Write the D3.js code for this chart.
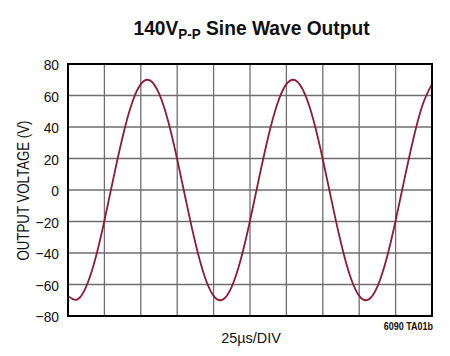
<!DOCTYPE html>
<html><head><meta charset="utf-8">
<script src="https://cdn.jsdelivr.net/npm/d3@7"></script>
<style>body{margin:0;background:#fff}</style>
</head><body>
<svg id="c" width="450" height="356"></svg>
<script>
const yTicks = [-80, -60, -40, -20, 0, 20, 40, 60, 80];
const xDivs = [0,1,2,3,4,5,6,7,8,9,10];
// time in divisions (25µs/DIV)
const timeDiv = [0,0.25,0.5,0.75,1,1.25,1.5,1.75,2,2.25,2.5,2.75,3,3.25,3.5,3.75,4,4.25,4.5,4.75,5,5.25,5.5,5.75,6,6.25,6.5,6.75,7,7.25,7.5,7.75,8,8.25,8.5,8.75,9,9.25,9.5,9.75,10];
const voltage = [-67.2,-69.6,-61.3,-43.8,-19.5,7.7,33.7,54.6,67.2,69.6,61.3,43.8,19.5,-7.7,-33.7,-54.6,-67.2,-69.6,-61.3,-43.8,-19.5,7.7,33.7,54.6,67.2,69.6,61.3,43.8,19.5,-7.7,-33.7,-54.6,-67.2,-69.6,-61.3,-43.8,-19.5,7.7,33.7,54.6,67.2];

const svg = d3.select("#c");
const L=68, R=432, T=64, B=316;
const x = d3.scaleLinear().domain([0,10]).range([L,R]);
const y = d3.scaleLinear().domain([-80,80]).range([B,T]);
const FONT = "'Liberation Sans',Arial,Helvetica,sans-serif";

function label(px, py, txt, size, anchor, sx, opts={}) {
  const g = svg.append("g").attr("transform",
    `translate(${px},${py})` + (opts.rot ? ` rotate(${opts.rot})` : "") + ` scale(${sx},1)`);
  return g.append("text").attr("text-anchor",anchor).attr("font-family",FONT)
    .attr("font-size",size).attr("font-weight",opts.bold?"bold":"normal")
    .attr("fill","#111").text(txt);
}

// grid
svg.append("g").selectAll("line").data(xDivs.slice(1,-1)).join("line")
  .attr("x1",d=>x(d)).attr("x2",d=>x(d)).attr("y1",T).attr("y2",B)
  .attr("stroke","#6e6e6e").attr("stroke-width",1.3);
svg.append("g").selectAll("line").data(yTicks.slice(1,-1)).join("line")
  .attr("y1",d=>y(d)).attr("y2",d=>y(d)).attr("x1",L).attr("x2",R)
  .attr("stroke","#6e6e6e").attr("stroke-width",1.3);

// y tick labels
const tsx = 0.89;
const yAxis = d3.axisLeft(y).tickValues(yTicks).tickSize(0).tickPadding(0)
  .tickFormat(d=>d<0?"\u2212"+Math.abs(d):String(d));
const ga = svg.append("g").attr("transform",`translate(${L-9},0)`).call(yAxis);
ga.select(".domain").remove();
ga.selectAll("text").attr("x",0).attr("dy","0.36em")
  .attr("transform",`scale(${tsx},1)`)
  .attr("font-family",FONT).attr("font-size",15.5).attr("fill","#111");

// curve
const pts = timeDiv.map((t,i)=>[t,voltage[i]]);
svg.append("path").datum(pts)
  .attr("d", d3.line().x(d=>x(d[0])).y(d=>y(d[1])).curve(d3.curveNatural))
  .attr("fill","none").attr("stroke","#8a1c3c").attr("stroke-width",1.8);

// frame
svg.append("rect").attr("x",L).attr("y",T).attr("width",R-L).attr("height",B-T)
  .attr("fill","none").attr("stroke","#000").attr("stroke-width",2);

// title
const title = label(251.5, 35, "", 20, "middle", 0.96, {bold:true});
title.append("tspan").text("140V");
title.append("tspan").attr("font-size",14).attr("dy",4).text("P-P");
title.append("tspan").attr("dy",-4).text(" Sine Wave Output");

// axis titles
label(29, 190.5, "OUTPUT VOLTAGE (V)", 16, "middle", 0.83, {rot:-90});
label(251, 343, "25\u00b5s/DIV", 15.5, "middle", 0.93);
label(433, 330, "6090 TA01b", 10, "end", 0.9, {bold:true});
</script>
</body></html>
